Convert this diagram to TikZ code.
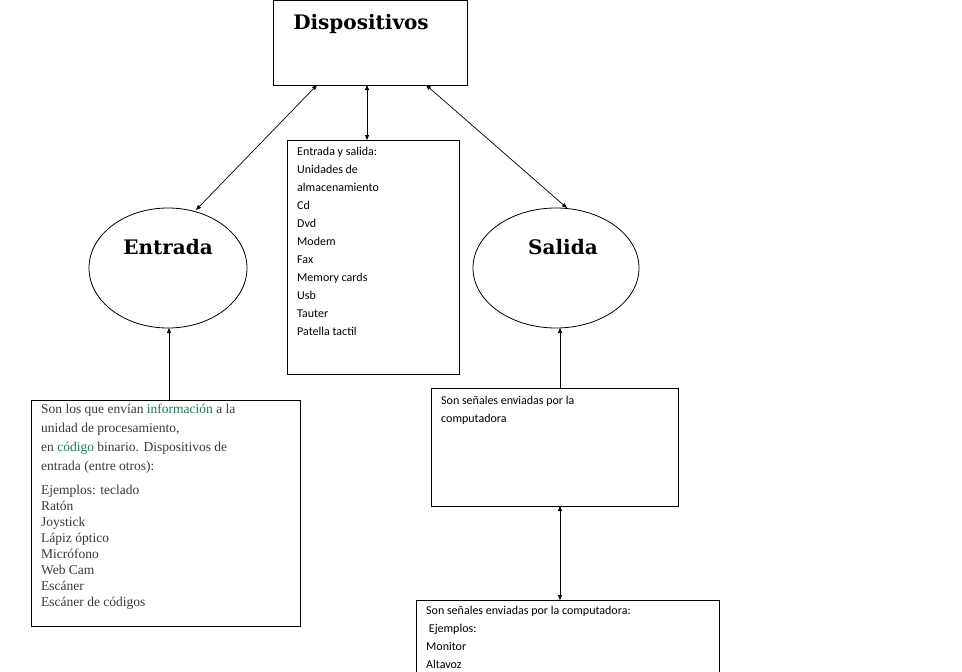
\documentclass[tikz,border=0pt]{standalone}
\usepackage{fontspec}
\setmainfont{Carlito}
\newfontfamily\serifb{Liberation Serif}
\newfontfamily\titlef{DejaVu Serif}
\usetikzlibrary{arrows.meta}
\definecolor{gtxt}{HTML}{3A3A3A}
\definecolor{grn}{HTML}{1E7A4E}
\begin{document}
\begin{tikzpicture}[x=1pt,y=-1pt,
  box/.style={draw,line width=0.8pt},
  con/.style={line width=0.7pt,{Triangle[length=5pt,width=4pt]}-{Triangle[length=5pt,width=4pt]}},
  one/.style={line width=0.7pt,-{Triangle[length=5pt,width=4pt]}},
  ttl/.style={font=\titlef\bfseries\fontsize{20}{22}\selectfont},
  cal/.style={font=\fontsize{12}{18}\selectfont,align=left,anchor=north west,inner sep=0pt},
  ser/.style={font=\serifb\fontsize{13.5}{16}\selectfont,text=gtxt,align=left,anchor=north west,inner sep=0pt}]
\useasboundingbox (0,0) rectangle (962,672);
\fill[white] (0,0) rectangle (962,672);
\begin{scope}
\clip (0,0) rectangle (962,672);
\node[box,minimum width=194pt,minimum height=85pt,anchor=north west] (disp) at (273,0) {};
\node[ttl] (dispt) at (361,24) {Dispositivos};
\node[box,minimum width=172pt,minimum height=234pt,anchor=north west] (mid) at (287,140) {};
\node[cal] (midt) at (297,147) {Entrada y salida:\\Unidades de\\almacenamiento\\Cd\\Dvd\\Modem\\Fax\\Memory cards\\Usb\\Tauter\\Patella tactil};
\draw[box] (168,268) ellipse [x radius=79, y radius=60];
\node (ent) at (168,268) [minimum width=158pt,minimum height=120pt] {};
\node[ttl] at (168,247) {Entrada};
\draw[box] (556,268) ellipse [x radius=83, y radius=60];
\node (sal) at (556,268) [minimum width=166pt,minimum height=120pt] {};
\node[ttl] at (563,247) {Salida};
\node[box,minimum width=269pt,minimum height=226pt,anchor=north west] (lb) at (31,400) {};
\node[ser] (lbt) at (41,404) {Son los que envían \textcolor{grn}{información} a la\\[3pt]unidad de procesamiento,\\[3pt]en \textcolor{grn}{código} binario. Dispositivos de\\[3pt]entrada (entre otros):\\[8pt]Ejemplos: teclado\\Ratón\\Joystick\\Lápiz óptico\\Micrófono\\Web Cam\\Escáner\\Escáner de códigos};
\node[box,minimum width=247pt,minimum height=118pt,anchor=north west] (rb) at (431,388) {};
\node[cal,font=\fontsize{12}{18}\selectfont] (rbt) at (441,396) {Son señales enviadas por la\\computadora};
\node[box,minimum width=303pt,minimum height=100pt,anchor=north west] (rb2) at (416,600) {};
\node[cal] (rb2t) at (426,606) {Son señales enviadas por la computadora:\\\ Ejemplos:\\Monitor\\Altavoz};
\coordinate (a1) at (317,85); \coordinate (a2) at (196,210);
\draw[con] (a1) -- (a2);
\draw[con] (367,85) -- (367,140);
\draw[con] (426,85) -- (567,208);
\draw[one] (169,400) -- (169,328);
\draw[one] (560,388) -- (560,328);
\draw[con] (560,506) -- (560,600);
\end{scope}
\end{tikzpicture}
\end{document}
